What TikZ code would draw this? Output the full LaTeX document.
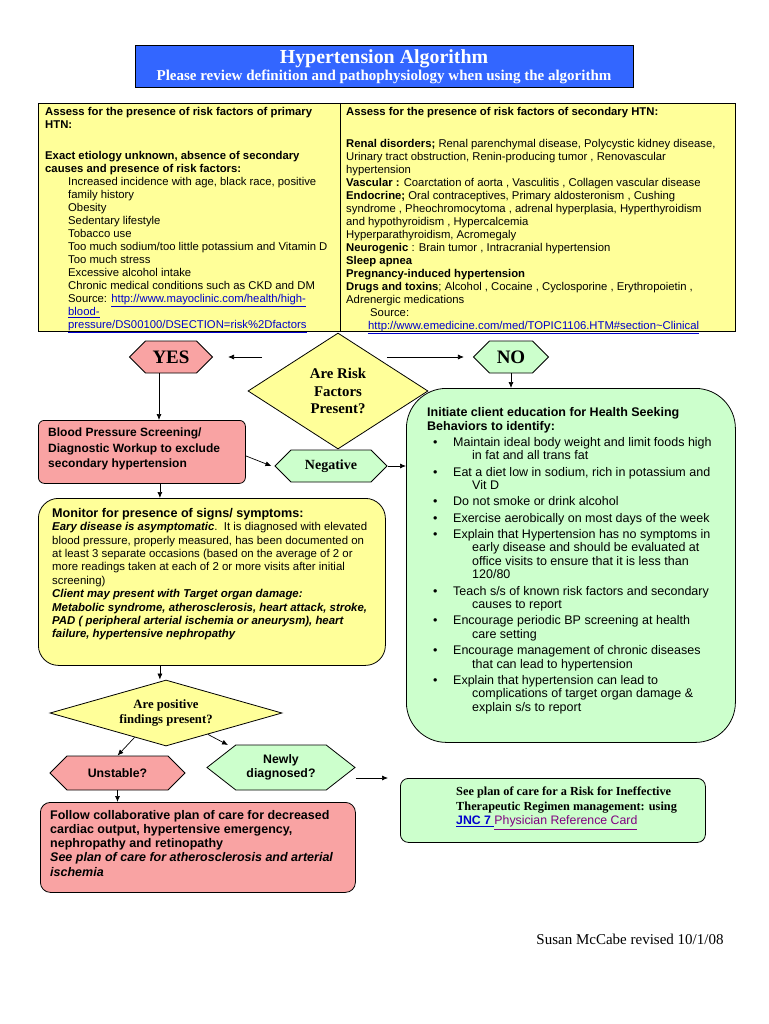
\documentclass[tikz,border=0pt]{standalone}
\usepackage{fontspec}
\setmainfont{Liberation Sans}
\newfontfamily\tms{Liberation Serif}
\usetikzlibrary{shapes.geometric,shapes.symbols,arrows.meta,calc}
\definecolor{hdrblue}{HTML}{3366FF}
\definecolor{ylw}{HTML}{FFFF99}
\definecolor{pnk}{HTML}{F9A3A3}
\definecolor{grn}{HTML}{CCFFCC}
\definecolor{lnkblue}{HTML}{0000CC}
\definecolor{lnkpurple}{HTML}{800080}
\newcommand\lnk[1]{{\color{lnkblue}\underline{#1}}}
\newcommand\bul{\hspace*{6pt}\makebox[20pt][l]{\textbullet}}
\newcommand\cnt{\hspace*{45pt}}
\begin{document}
\begin{tikzpicture}[x=1pt,y=-1pt,
  box/.style={draw=black, line width=0.8pt, inner sep=0pt, anchor=north west},
  arr/.style={-{Latex[length=6pt,width=5pt]}, line width=0.7pt},
  hexa/.style={draw, line width=0.8pt, signal, signal to=west and east, signal pointer angle=90, inner sep=0pt},
  txtblk/.style={anchor=north west, align=left, inner sep=0pt}]
\useasboundingbox[fill=white] (0,0) rectangle (768,1024);

% header
\node[box, fill=hdrblue, minimum width=498pt, minimum height=42pt] (hdr) at (135,45) {};
\node[font=\tms\bfseries\fontsize{19.9}{22}\selectfont, text=white] (t1) at (384,59) {Hypertension Algorithm};
\node[font=\tms\bfseries\fontsize{15}{17}\selectfont, text=white] (t2) at (384,77) {Please review definition and pathophysiology when using the algorithm};

% table
\node[box, fill=ylw, minimum width=697pt, minimum height=228pt] (tbl) at (38,103) {};
\draw[line width=0.8pt] (340,103) -- (340,331);
\node[txtblk, font=\fontsize{11.3}{13}\selectfont] (lcol) at (45,107) {%
\textbf{Assess for the presence of risk factors of primary}\\
\textbf{HTN:}\\[18pt]
\textbf{Exact etiology unknown, absence of secondary}\\
\textbf{causes and presence of risk factors:}\\
\hspace*{23pt}Increased incidence with age, black race, positive\\
\hspace*{23pt}family history\\
\hspace*{23pt}Obesity\\
\hspace*{23pt}Sedentary lifestyle\\
\hspace*{23pt}Tobacco use\\
\hspace*{23pt}Too much sodium/too little potassium and Vitamin D\\
\hspace*{23pt}Too much stress\\
\hspace*{23pt}Excessive alcohol intake\\
\hspace*{23pt}Chronic medical conditions such as CKD and DM\\
\hspace*{23pt}Source: \lnk{http://www.mayoclinic.com/health/high-}\\
\hspace*{23pt}\lnk{blood-}\\
\hspace*{23pt}\lnk{pressure/DS00100/DSECTION=risk\%2Dfactors}};
\node[txtblk, font=\fontsize{11.3}{13}\selectfont] (rcol) at (346,107) {%
\textbf{Assess for the presence of risk factors of secondary HTN:}\\[19pt]
\textbf{Renal disorders;} Renal parenchymal disease, Polycystic kidney disease,\\
Urinary tract obstruction, Renin-producing tumor , Renovascular\\
hypertension\\
\textbf{Vascular :} Coarctation of aorta , Vasculitis , Collagen vascular disease\\
\textbf{Endocrine;} Oral contraceptives, Primary aldosteronism , Cushing\\
syndrome , Pheochromocytoma , adrenal hyperplasia, Hyperthyroidism\\
and hypothyroidism , Hypercalcemia\\
Hyperparathyroidism, Acromegaly\\
\textbf{Neurogenic} : Brain tumor , Intracranial hypertension\\
\textbf{Sleep apnea}\\
\textbf{Pregnancy-induced hypertension}\\
\textbf{Drugs and toxins}; Alcohol , Cocaine , Cyclosporine , Erythropoietin ,\\
Adrenergic medications\\
\hspace*{24pt}Source:\\
\hspace*{22pt}\lnk{http://www.emedicine.com/med/TOPIC1106.HTM\#section\textasciitilde Clinical}};

% first decision
\node[diamond, draw, line width=0.8pt, fill=ylw, minimum width=180pt, minimum height=116pt, inner sep=0pt, align=center, font=\tms\bfseries\fontsize{14.8}{17.5}\selectfont] (d1) at (338,391) {Are Risk\\Factors\\Present?};
\node[hexa, fill=pnk, minimum width=83pt, minimum height=32pt, font=\tms\bfseries\fontsize{19}{20}\selectfont] (yes) at (171,357) {YES};
\node[hexa, fill=grn, minimum width=75pt, minimum height=32pt, font=\tms\bfseries\fontsize{19}{20}\selectfont] (no) at (511,357) {NO};
\draw[arr] ([xshift=49pt]yes.east) -- ([xshift=15pt]yes.east);
\draw[arr] ([xshift=-86pt]no.west) -- ([xshift=-9pt]no.west);

% education box
\node[box, fill=grn, rounded corners=40pt, minimum width=329pt, minimum height=354pt] (gbox) at (406,388) {};
\draw[arr] (no.south) -- (no.south |- gbox.north);
\node[txtblk, font=\fontsize{12.5}{13.5}\selectfont] (gtxt) at (427,407) {%
\textbf{Initiate client education for Health Seeking}\\[0.5pt]
\textbf{Behaviors to identify:}\\[2.5pt]
\bul Maintain ideal body weight and limit foods high\\
\cnt in fat and all trans fat\\[2.75pt]
\bul Eat a diet low in sodium, rich in potassium and\\
\cnt Vit D\\[2.75pt]
\bul Do not smoke or drink alcohol\\[2.75pt]
\bul Exercise aerobically on most days of the week\\[2.75pt]
\bul Explain that Hypertension has no symptoms in\\
\cnt early disease and should be evaluated at\\
\cnt office visits to ensure that it is less than\\
\cnt 120/80\\[2.75pt]
\bul Teach s/s of known risk factors and secondary\\
\cnt causes to report\\[2.75pt]
\bul Encourage periodic BP screening at health\\
\cnt care setting\\[2.75pt]
\bul Encourage management of chronic diseases\\
\cnt that can lead to hypertension\\[2.75pt]
\bul Explain that hypertension can lead to\\
\cnt complications of target organ damage \&\\
\cnt explain s/s to report};

% BP screening
\node[box, fill=pnk, rounded corners=6pt, minimum width=207pt, minimum height=63pt] (bp) at (38,420) {};
\node[txtblk, font=\bfseries\fontsize{12}{15.5}\selectfont] (bptxt) at (48,428) {Blood Pressure Screening/\\Diagnostic Workup to exclude\\secondary hypertension};
\draw[arr] ([xshift=-12pt]yes.south) -- ([xshift=-12pt]yes.south |- bp.north);
\node[hexa, fill=grn, minimum width=112pt, minimum height=32pt, font=\tms\bfseries\fontsize{14}{16}\selectfont] (neg) at (331,466) {Negative};
\draw[arr] ([yshift=-4pt]bp.east) -- ([xshift=-3pt]neg.west);
\draw[arr] (neg.east) -- (neg.east -| gbox.west);

% monitor
\node[box, fill=ylw, rounded corners=20pt, minimum width=347pt, minimum height=167pt] (mon) at (38,498) {};
\draw[arr] ([xshift=18pt]bp.south) -- ([xshift=18pt]bp.south |- mon.north);
\node[txtblk, font=\fontsize{11.4}{13.4}\selectfont] (montxt) at (52,508) {%
{\bfseries\fontsize{12.6}{13.4}\selectfont Monitor for presence of signs/ symptoms:}\\
\textbf{\textit{Eary disease is asymptomatic}}.\ \ It is diagnosed with elevated\\
blood pressure, properly measured, has been documented on\\
at least 3 separate occasions (based on the average of 2 or\\
more readings taken at each of 2 or more visits after initial\\
screening)\\
\textbf{\textit{Client may present with Target organ damage:}}\\
\textbf{\textit{Metabolic syndrome, atherosclerosis, heart attack, stroke,}}\\
\textbf{\textit{PAD ( peripheral arterial ischemia or aneurysm), heart}}\\
\textbf{\textit{failure, hypertensive nephropathy}}};

% second decision
\node[diamond, aspect=3.5, draw, line width=0.8pt, fill=ylw, minimum width=232pt, minimum height=66pt, inner sep=0pt, align=center, font=\tms\bfseries\fontsize{12.7}{15}\selectfont] (d2) at (166,713) {Are positive\\findings present?};
\draw[arr] ([xshift=-52pt]mon.south) -- ([xshift=-52pt]mon.south |- d2.north);
\node[hexa, fill=pnk, minimum width=135pt, minimum height=34pt, font=\bfseries\fontsize{12.3}{14}\selectfont] (uns) at (117.5,773) {Unstable?};
\node[hexa, fill=grn, signal pointer angle=76, minimum width=148pt, minimum height=45pt, align=center, font=\bfseries\fontsize{12.3}{14}\selectfont] (new) at (281,767.5) {Newly\\diagnosed?};
\draw[arr] ($(d2.west)!0.73!(d2.south)$) -- (uns.north);
\draw[arr] ($(d2.south)!0.36!(d2.east)$) -- ([shift={(-53pt,22.5pt)}]new.center);

% red box
\node[box, fill=pnk, rounded corners=10pt, minimum width=315pt, minimum height=90pt] (red) at (40,802) {};
\draw[arr] (uns.south) -- (uns.south |- red.north);
\node[txtblk, font=\bfseries\fontsize{12.5}{14.2}\selectfont] (redtxt) at (50,810) {%
Follow collaborative plan of care for decreased\\
cardiac output, hypertensive emergency,\\
nephropathy and retinopathy\\
\textit{See plan of care for atherosclerosis and arterial}\\
\textit{ischemia}};

% plan box
\node[box, fill=grn, rounded corners=8pt, minimum width=305pt, minimum height=64pt] (g2) at (400,778) {};
\draw[arr] ([yshift=-10.5pt]new.east) -- ([xshift=-12pt]g2.north west);
\node[txtblk, font=\fontsize{12.3}{14.5}\selectfont] (g2txt) at (456,787) {%
{\tms\bfseries See plan of care for a Risk for Ineffective}\\
{\tms\bfseries Therapeutic Regimen management: using}\\
{\color{lnkblue}\underline{\textbf{JNC 7}\ }}{\color{lnkpurple}\underline{Physician Reference Card}}};

\node[font=\tms\fontsize{15}{17}\selectfont, anchor=base] (sig) at (630,944) {Susan McCabe revised 10/1/08};
\end{tikzpicture}
\end{document}
